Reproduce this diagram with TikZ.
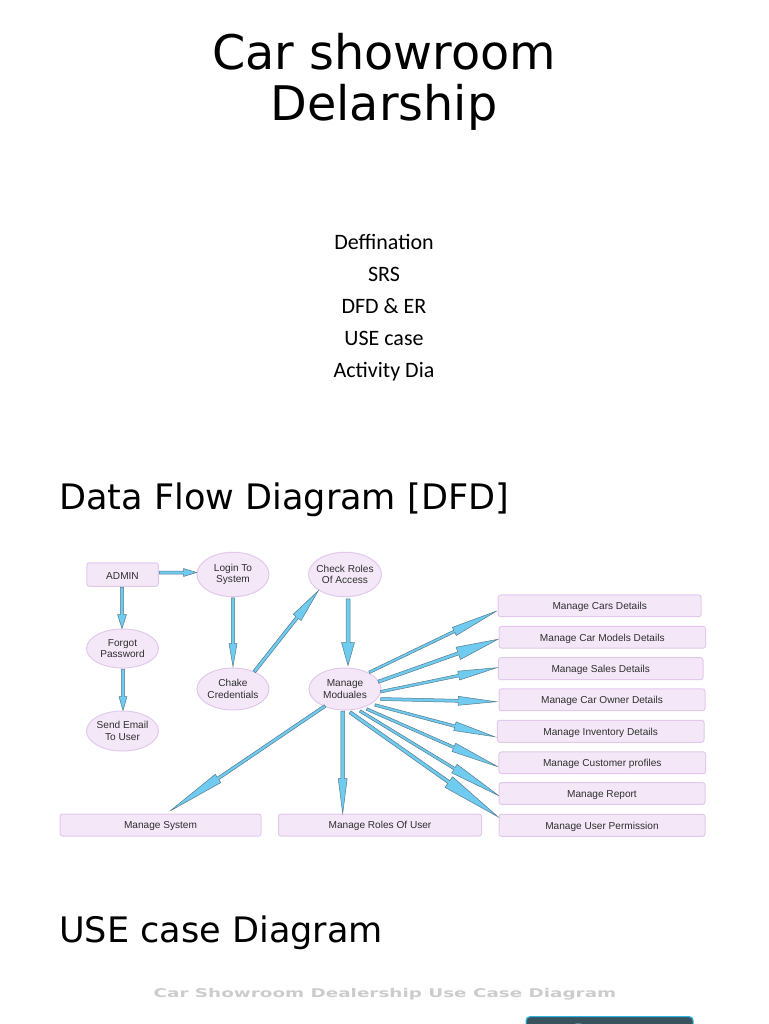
\documentclass[tikz,border=0pt]{standalone}
\usepackage{fontspec}
\setmainfont{DejaVu Sans}
\newfontfamily\bodyfont{Carlito}
\newfontfamily\diafont{Liberation Sans}
\usetikzlibrary{calc,shapes.geometric}
\definecolor{nodefill}{HTML}{F4E8F8}
\definecolor{nodeline}{HTML}{E3C8EE}
\definecolor{arrowfill}{HTML}{6FCBEF}
\definecolor{arrowline}{HTML}{567A8C}
\definecolor{diatext}{HTML}{2E2E2E}
\definecolor{browsefill}{HTML}{38525E}
\definecolor{browseline}{HTML}{2FB4E0}
\tikzset{
  x=1pt,y=-1pt,
  titletext/.style={font=\fontsize{47.7}{51}\selectfont,align=center,inner sep=0,text=black},
  headtext/.style={font=\fontsize{35.1}{40}\selectfont,anchor=base west,inner sep=0,text=black},
  bodytext/.style={font=\bodyfont\fontsize{22}{32}\selectfont,align=center,inner sep=0,text=black},
  boxn/.style={draw=nodeline,fill=nodefill,line width=1pt,rounded corners=2.5pt,inner sep=0,
    font=\diafont\fontsize{10.1}{11.5}\selectfont,text=diatext,align=center,
    execute at begin node={\rule{0pt}{9.7pt}}},
  elln/.style={ellipse,draw=nodeline,fill=nodefill,line width=1pt,inner sep=0,inner xsep=-3pt,
    minimum width=72pt,font=\diafont\fontsize{10.1}{11.5}\selectfont,text=diatext,align=center,
    execute at begin node={\rule{0pt}{9.7pt}}},
  fat/.style n args={3}{draw=arrowline,fill=arrowfill,line width=0.5pt,line join=miter,
    to path={
      coordinate (hb) at ($(\tikztotarget)!#2pt!(\tikztostart)$)
      ($(\tikztostart)!#1pt!90:(\tikztotarget)$)
      -- ($(hb)!#1pt!-90:(\tikztostart)$)
      -- ($(hb)!#3pt!-90:(\tikztostart)$)
      -- (\tikztotarget)
      -- ($(hb)!#3pt!90:(\tikztostart)$)
      -- ($(hb)!#1pt!90:(\tikztostart)$)
      -- ($(\tikztostart)!#1pt!-90:(\tikztotarget)$)
      -- cycle}},
}
\begin{document}
\begin{tikzpicture}
\useasboundingbox (0,0) rectangle (768,1024);
\clip (0,0) rectangle (768,1024);
\fill[white] (0,0) rectangle (768,1024);
\node[titletext] (title) at (384,81.5) {Car showroom\\Delarship};
\node[bodytext] (toc) at (384,307.3) {Deffination\\SRS\\DFD \& ER\\USE case\\Activity Dia};
\node[headtext] (h1) at (59,509) {Data Flow Diagram [DFD]};
\node[headtext] (h2) at (59,942) {USE case Diagram};

\node[boxn,minimum width=71.5pt,minimum height=23.5pt] (admin) at (122.5,574.5) {ADMIN};
\node[elln,minimum height=44.5pt] (login) at (233,574.5) {Login To\\System};
\node[elln,minimum height=44.5pt,minimum width=73pt] (check) at (345,574.5) {Check Roles\\Of Access};
\node[elln,minimum height=39pt] (forgot) at (122.5,648.5) {Forgot\\Password};
\node[elln,minimum height=40pt] (send) at (122.5,731) {Send Email\\To User};
\node[elln,minimum height=42pt] (chake) at (233,689) {Chake\\Credentials};
\node[elln,minimum height=42pt] (mod) at (345,689) {Manage\\Moduales};

\node[boxn,minimum width=201pt,minimum height=22pt] (system) at (160.5,825) {Manage System};
\node[boxn,minimum width=203pt,minimum height=22pt] (roles) at (380,825) {Manage Roles Of User};
\node[boxn,minimum width=203pt,minimum height=21.7pt] (cars) at (599.7,605.8) {Manage Cars Details};
\node[boxn,minimum width=206.5pt,minimum height=21.7pt] (models) at (602.3,637.2) {Manage Car Models Details};
\node[boxn,minimum width=204.7pt,minimum height=22pt] (sales) at (600.7,668.7) {Manage Sales Details};
\node[boxn,minimum width=206pt,minimum height=21.7pt] (owner) at (602,699.8) {Manage Car Owner Details};
\node[boxn,minimum width=206.7pt,minimum height=22pt] (inventory) at (600.7,731.3) {Manage Inventory Details};
\node[boxn,minimum width=206.7pt,minimum height=21.7pt] (customer) at (602.3,762.8) {Manage Customer profiles};
\node[boxn,minimum width=206pt,minimum height=21.7pt] (report) at (602,793.5) {Manage Report};
\node[boxn,minimum width=206pt,minimum height=22pt] (permission) at (602,825.3) {Manage User Permission};

\draw[fat={1.5}{13}{4}] ($(admin.east)+(0.5,-2)$) to ($(login.west)+(0,-2)$);
\draw[fat={1.6}{14}{4.5}] ($(admin.south)+(-0.5,0.7)$) to ($(forgot.north)+(-0.5,0)$);
\draw[fat={1.6}{14}{4}] ($(forgot.south)+(0.5,0.5)$) to ($(send.north)+(0.5,0)$);
\draw[fat={1.6}{23}{4}] ($(login.south)+(0,0.5)$) to ($(chake.north)+(0,-1)$);
\draw[fat={1.6}{34}{5}] ($(chake)+(21.3,-17.3)$) to ($(check)+(-26.7,16.2)$);
\draw[fat={2}{23}{6.5}] ($(check.south)+(3,1.5)$) to ($(mod.north)+(3,-2)$);
\draw[fat={1.5}{58}{5}] ($(mod)+(-20,17)$) to ($(system.north)+(9.5,-2.5)$);
\draw[fat={1.8}{35}{4.5}] ($(mod.south)+(-2.3,0.7)$) to ($(roles.north)+(-37.3,0)$);
\draw[fat={1.3}{47}{4.5}] ($(mod)+(24.3,-16.7)$) to ($(cars.west)+(-1,5.2)$);
\draw[fat={1.6}{42}{6.5}] ($(mod)+(33.3,-7.3)$) to ($(models.west)+(-0.7,2.1)$);
\draw[fat={1.3}{39}{4.5}] ($(mod)+(35.7,2.7)$) to ($(sales.west)+(-1,-1)$);
\draw[fat={1.5}{38}{4.5}] ($(mod)+(35.7,10)$) to ($(owner.west)+(-2.3,1.9)$);
\draw[fat={1.3}{41}{4.5}] ($(mod)+(30,16)$) to ($(inventory.west)+(-2.3,5.4)$);
\draw[fat={1.3}{48}{4.5}] ($(mod)+(21.7,20)$) to ($(customer.west)+(-0.7,3.9)$);
\draw[fat={1.3}{52}{5}] ($(mod)+(15,22)$) to ($(report.west)+(0.3,2.2)$);
\draw[fat={1.7}{60}{6.5}] ($(mod)+(5,23.3)$) to ($(permission.west)+(-0.7,-8.6)$);

\node[inner sep=0,text=black!20,font=\fontsize{12}{14}\selectfont\bfseries,xscale=1.53] (uc) at (385,994) {Car Showroom Dealership Use Case Diagram};
\node[draw=browseline,fill=browsefill,rounded corners=4pt,line width=1.2pt,minimum width=167pt,minimum height=30pt,inner sep=0,anchor=north west] (browse) at (525.5,1016) {};
\node[inner sep=0,text=browseline!50!white,font=\fontsize{17}{19}\selectfont,anchor=base] (browsetxt) at (595,1036) {< Browse};
\end{tikzpicture}
\end{document}
